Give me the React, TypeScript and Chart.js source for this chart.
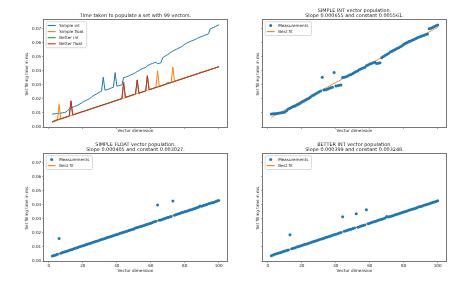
import { useEffect, useRef } from "react";
import { Chart, registerables } from "chart.js";

Chart.register(...registerables);

// ---- data -------------------------------------------------------------
const vectorDims = Array.from({ length: 99 }, (_, i) => i + 2);

// set filling time (ms) for vector dimensions 2..100
const simpleInt = [
  0.0092, 0.0094, 0.0095, 0.0096, 0.0098, 0.0099, 0.0101, 0.0103, 0.0107,
  0.0115, 0.0128, 0.0134, 0.0141, 0.0146, 0.0150, 0.0156, 0.0163, 0.0170, 0.0178,
  0.0184, 0.0190, 0.0197, 0.0203, 0.0212, 0.0222, 0.0229, 0.0235, 0.0242, 0.0249,
  0.0256, 0.0355, 0.0263, 0.0266, 0.0270, 0.0274, 0.0280, 0.0284, 0.0388, 0.0292,
  0.0294, 0.0297, 0.0300, 0.0353, 0.0355, 0.0359, 0.0364, 0.0370, 0.0375, 0.0381,
  0.0388, 0.0395, 0.0402, 0.0410, 0.0416, 0.0421, 0.0424, 0.0437, 0.0443, 0.0449,
  0.0453, 0.0458, 0.0462, 0.0452, 0.0454, 0.0458, 0.0494, 0.0502, 0.0509, 0.0517,
  0.0525, 0.0534, 0.0541, 0.0548, 0.0553, 0.0560, 0.0566, 0.0572, 0.0580, 0.0590,
  0.0597, 0.0603, 0.0609, 0.0614, 0.0618, 0.0624, 0.0630, 0.0636, 0.0641, 0.0645,
  0.0650, 0.0655, 0.0660, 0.0664, 0.0700, 0.0705, 0.0710, 0.0716, 0.0722, 0.0728,
];

const simpleFloat = [
  0.0035, 0.0039, 0.0043, 0.0048, 0.0160, 0.0056, 0.0060, 0.0064, 0.0068,
  0.0072, 0.0076, 0.0080, 0.0084, 0.0089, 0.0093, 0.0097, 0.0101, 0.0106, 0.0109,
  0.0113, 0.0117, 0.0121, 0.0125, 0.0129, 0.0133, 0.0138, 0.0141, 0.0145, 0.0149,
  0.0153, 0.0157, 0.0160, 0.0165, 0.0169, 0.0173, 0.0177, 0.0182, 0.0185, 0.0189,
  0.0193, 0.0197, 0.0201, 0.0205, 0.0208, 0.0213, 0.0217, 0.0221, 0.0225, 0.0229,
  0.0236, 0.0238, 0.0242, 0.0246, 0.0250, 0.0254, 0.0259, 0.0262, 0.0266, 0.0270,
  0.0274, 0.0280, 0.0283, 0.0400, 0.0290, 0.0293, 0.0298, 0.0302, 0.0307, 0.0310,
  0.0314, 0.0318, 0.0427, 0.0326, 0.0331, 0.0335, 0.0339, 0.0344, 0.0347, 0.0351,
  0.0355, 0.0359, 0.0363, 0.0366, 0.0371, 0.0375, 0.0379, 0.0383, 0.0392, 0.0391,
  0.0395, 0.0399, 0.0403, 0.0408, 0.0411, 0.0415, 0.0418, 0.0423, 0.0427, 0.0432,
];

const betterInt = [
  0.0038, 0.0042, 0.0049, 0.0052, 0.0055, 0.0059, 0.0063, 0.0067, 0.0071,
  0.0075, 0.0079, 0.0187, 0.0087, 0.0091, 0.0095, 0.0099, 0.0103, 0.0107, 0.0111,
  0.0115, 0.0119, 0.0122, 0.0127, 0.0131, 0.0135, 0.0139, 0.0143, 0.0146, 0.0151,
  0.0155, 0.0159, 0.0163, 0.0167, 0.0171, 0.0175, 0.0179, 0.0183, 0.0187, 0.0191,
  0.0195, 0.0199, 0.0203, 0.0316, 0.0213, 0.0216, 0.0219, 0.0224, 0.0227, 0.0231,
  0.0235, 0.0337, 0.0241, 0.0245, 0.0250, 0.0253, 0.0257, 0.0366, 0.0266, 0.0270,
  0.0274, 0.0278, 0.0282, 0.0286, 0.0290, 0.0294, 0.0298, 0.0302, 0.0306, 0.0318,
  0.0313, 0.0317, 0.0321, 0.0325, 0.0329, 0.0333, 0.0337, 0.0341, 0.0345, 0.0349,
  0.0353, 0.0357, 0.0361, 0.0365, 0.0369, 0.0373, 0.0377, 0.0381, 0.0386, 0.0389,
  0.0393, 0.0397, 0.0401, 0.0405, 0.0409, 0.0413, 0.0417, 0.0421, 0.0425, 0.0430,
];

const betterFloat = [
  0.0037, 0.0042, 0.0046, 0.0050, 0.0054, 0.0058, 0.0062, 0.0066, 0.0070,
  0.0074, 0.0078, 0.0185, 0.0086, 0.0090, 0.0094, 0.0098, 0.0102, 0.0106, 0.0110,
  0.0114, 0.0118, 0.0122, 0.0126, 0.0130, 0.0134, 0.0138, 0.0142, 0.0146, 0.0150,
  0.0154, 0.0158, 0.0162, 0.0166, 0.0170, 0.0174, 0.0178, 0.0182, 0.0186, 0.0190,
  0.0194, 0.0198, 0.0202, 0.0319, 0.0211, 0.0215, 0.0219, 0.0223, 0.0227, 0.0231,
  0.0235, 0.0335, 0.0241, 0.0245, 0.0249, 0.0253, 0.0257, 0.0365, 0.0265, 0.0269,
  0.0273, 0.0277, 0.0281, 0.0285, 0.0289, 0.0293, 0.0297, 0.0301, 0.0305, 0.0309,
  0.0313, 0.0317, 0.0321, 0.0325, 0.0329, 0.0333, 0.0337, 0.0341, 0.0345, 0.0349,
  0.0353, 0.0357, 0.0361, 0.0365, 0.0369, 0.0373, 0.0377, 0.0381, 0.0385, 0.0389,
  0.0393, 0.0397, 0.0401, 0.0405, 0.0409, 0.0413, 0.0417, 0.0421, 0.0425, 0.0429,
];

// least-squares fits: [slope, constant]
const simpleIntFit = [0.000655, 0.005561];
const simpleFloatFit = [0.000405, 0.003027];
const betterIntFit = [0.000399, 0.003248];

const xTicks = [0, 20, 40, 60, 80, 100];
const xTickLabels = ["0", "20", "40", "60", "80", "100"];
const yTicks = [0, 0.01, 0.02, 0.03, 0.04, 0.05, 0.06, 0.07];
const yTickLabels = ["0.00", "0.01", "0.02", "0.03", "0.04", "0.05", "0.06", "0.07"];

// ---- styling ------------------------------------------------------------
const FIG_W = 474;
const FIG_H = 292;
const X_RANGE = [-2.9, 104.9];
const Y_RANGE = [0, 0.0763];
const Y_AXIS_W = 14;
const X_AXIS_H = 8;
const FONT = "'DejaVu Sans', sans-serif";
const TEXT = "#222";
const SPINE = "#777";
const C_BLUE = "#1f77b4";
const C_ORANGE = "#ff7f0e";
const C_GREEN = "#2ca02c";
const C_RED = "#d62728";

type LegendItem = { label: string; color: string; kind: "line" | "marker" };
type Panel = {
  box: { l: number; t: number; r: number; b: number };
  title: string[];
  showXLabels: boolean;
  showYLabels: boolean;
  datasets: any[];
  legend: LegendItem[];
};

const pts = (ys: number[]) => ys.map((y, i) => ({ x: vectorDims[i], y }));

const fitLine = (fit: number[]) => {
  const x0 = vectorDims[0];
  const x1 = vectorDims[vectorDims.length - 1];
  return [
    { x: x0, y: fit[1] + fit[0] * x0 },
    { x: x1, y: fit[1] + fit[0] * x1 },
  ];
};

const lineSet = (label: string, ys: number[], color: string, order: number) => ({
  label,
  data: pts(ys),
  showLine: true,
  borderColor: color,
  backgroundColor: color,
  borderWidth: 1,
  borderJoinStyle: "round",
  borderCapStyle: "round",
  pointRadius: 0,
  order,
});

const scatterPanel = (ys: number[], fit: number[]) => [
  {
    label: "Measurements",
    data: pts(ys),
    showLine: false,
    pointRadius: 1.5,
    pointBorderWidth: 0,
    backgroundColor: C_BLUE,
    borderColor: C_BLUE,
    order: 0,
  },
  {
    label: "Best fit",
    data: fitLine(fit),
    showLine: true,
    borderColor: C_ORANGE,
    backgroundColor: C_ORANGE,
    borderWidth: 0.9,
    pointRadius: 0,
    order: 1,
  },
];

const scatterLegend: LegendItem[] = [
  { label: "Measurements", color: C_BLUE, kind: "marker" },
  { label: "Best fit", color: C_ORANGE, kind: "line" },
];

const fitTitle = (name: string, fit: number[]) => [
  `${name} vector population.`,
  `Slope ${fit[0].toFixed(6)} and constant ${fit[1].toFixed(6)}.`,
];

const panels: Panel[] = [
  {
    box: { l: 44, t: 20, r: 227, b: 127 },
    title: ["Time taken to populate a set with 99 vectors."],
    showXLabels: false,
    showYLabels: true,
    datasets: [
      lineSet("Simple int", simpleInt, C_BLUE, 4),
      lineSet("Simple float", simpleFloat, C_ORANGE, 3),
      lineSet("Better int", betterInt, C_GREEN, 2),
      lineSet("Better float", betterFloat, C_RED, 1),
    ],
    legend: [
      { label: "Simple int", color: C_BLUE, kind: "line" },
      { label: "Simple float", color: C_ORANGE, kind: "line" },
      { label: "Better int", color: C_GREEN, kind: "line" },
      { label: "Better float", color: C_RED, kind: "line" },
    ],
  },
  {
    box: { l: 263, t: 20, r: 446, b: 127 },
    title: fitTitle("SIMPLE INT", simpleIntFit),
    showXLabels: false,
    showYLabels: false,
    datasets: scatterPanel(simpleInt, simpleIntFit),
    legend: scatterLegend,
  },
  {
    box: { l: 44, t: 154, r: 227, b: 261 },
    title: fitTitle("SIMPLE FLOAT", simpleFloatFit),
    showXLabels: true,
    showYLabels: true,
    datasets: scatterPanel(simpleFloat, simpleFloatFit),
    legend: scatterLegend,
  },
  {
    box: { l: 263, t: 154, r: 446, b: 261 },
    title: fitTitle("BETTER INT", betterIntFit),
    showXLabels: true,
    showYLabels: false,
    datasets: scatterPanel(betterInt, betterIntFit),
    legend: scatterLegend,
  },
];

// frame, titles, axis labels and legend drawn around/inside the plot area
const decorPlugin = {
  id: "decor",
  afterDraw(chart: any, _args: any, opts: any) {
    const p: Panel = opts.panel;
    const { ctx, chartArea: a } = chart;
    ctx.save();

    // four spines
    ctx.strokeStyle = SPINE;
    ctx.lineWidth = 1;
    ctx.strokeRect(a.left - 0.5, a.top - 0.5, a.right - a.left + 1, a.bottom - a.top + 1);

    const cx = (a.left + a.right) / 2;
    ctx.fillStyle = TEXT;

    // title
    ctx.font = `4.9px ${FONT}`;
    ctx.textAlign = "center";
    ctx.textBaseline = "alphabetic";
    const n = p.title.length;
    p.title.forEach((line, i) => {
      ctx.fillText(line, cx, a.top - 2.6 - (n - 1 - i) * 5.2);
    });

    // axis labels
    ctx.font = `4.15px ${FONT}`;
    ctx.textBaseline = "middle";
    ctx.fillText("Vector dimension", cx, a.bottom + (p.showXLabels ? 10 : 4));
    ctx.save();
    ctx.translate(a.left - (p.showYLabels ? 17 : 5), (a.top + a.bottom) / 2);
    ctx.rotate(-Math.PI / 2);
    ctx.fillText("Set filling time in ms.", 0, 0);
    ctx.restore();

    // legend
    ctx.font = `4.1px ${FONT}`;
    const maxW = Math.max(...p.legend.map((it) => ctx.measureText(it.label).width));
    const lx = a.left + 1.7;
    const ly = a.top + 1.2;
    const lw = 13.5 + maxW + 2.5;
    const lh = p.legend.length * 6.1 + 1.6;
    ctx.beginPath();
    ctx.roundRect(lx + 0.5, ly + 0.5, lw, lh, 1.2);
    ctx.fillStyle = "rgba(255,255,255,0.8)";
    ctx.fill();
    ctx.strokeStyle = "#d0d0d0";
    ctx.lineWidth = 0.8;
    ctx.stroke();
    ctx.textAlign = "left";
    p.legend.forEach((it, i) => {
      const y = ly + 4.3 + i * 6.1;
      if (it.kind === "line") {
        ctx.strokeStyle = it.color;
        ctx.lineWidth = 1.1;
        ctx.beginPath();
        ctx.moveTo(lx + 2, y);
        ctx.lineTo(lx + 10, y);
        ctx.stroke();
      } else {
        ctx.fillStyle = it.color;
        ctx.beginPath();
        ctx.arc(lx + 6, y, 1.5, 0, Math.PI * 2);
        ctx.fill();
      }
      ctx.fillStyle = TEXT;
      ctx.fillText(it.label, lx + 13.5, y);
    });

    ctx.restore();
  },
};

function makeConfig(p: Panel): any {
  return {
    type: "scatter",
    data: { datasets: p.datasets },
    plugins: [decorPlugin],
    options: {
      animation: false,
      responsive: false,
      devicePixelRatio: 1,
      events: [],
      layout: {
        padding: {
          left: p.box.l - Y_AXIS_W,
          right: FIG_W - p.box.r,
          top: p.box.t,
          bottom: FIG_H - p.box.b - X_AXIS_H,
        },
      },
      plugins: {
        legend: { display: false },
        tooltip: { enabled: false },
        title: { display: false },
        decor: { panel: p },
      },
      scales: {
        x: {
          type: "linear",
          min: X_RANGE[0],
          max: X_RANGE[1],
          afterBuildTicks: (s: any) => {
            s.ticks = xTicks.map((v) => ({ value: v }));
          },
          afterFit: (s: any) => {
            s.height = X_AXIS_H;
          },
          border: { display: false },
          grid: { display: true, drawOnChartArea: false, drawTicks: true, tickLength: 1.6, color: SPINE, lineWidth: 1 },
          ticks: {
            display: p.showXLabels,
            padding: 1.2,
            maxRotation: 0,
            autoSkip: false,
            color: TEXT,
            font: { family: FONT, size: 4.15 },
            callback: (v: number) => xTickLabels[xTicks.indexOf(v)],
          },
        },
        y: {
          type: "linear",
          min: Y_RANGE[0],
          max: Y_RANGE[1],
          afterBuildTicks: (s: any) => {
            s.ticks = yTicks.map((v) => ({ value: v }));
          },
          afterFit: (s: any) => {
            s.width = Y_AXIS_W;
          },
          border: { display: false },
          grid: { display: true, drawOnChartArea: false, drawTicks: true, tickLength: 1.6, color: SPINE, lineWidth: 1 },
          ticks: {
            display: p.showYLabels,
            padding: 1.2,
            autoSkip: false,
            color: TEXT,
            font: { family: FONT, size: 4.15 },
            callback: (v: number) => yTickLabels[yTicks.indexOf(v)],
          },
        },
      },
    },
  };
}

function PanelCanvas({ panel }: { panel: Panel }) {
  const ref = useRef<HTMLCanvasElement | null>(null);
  useEffect(() => {
    if (!ref.current) return;
    const chart = new Chart(ref.current, makeConfig(panel));
    return () => chart.destroy();
  }, [panel]);
  return (
    <canvas
      ref={ref}
      width={FIG_W}
      height={FIG_H}
      style={{ position: "absolute", left: 0, top: 0, width: FIG_W, height: FIG_H }}
    />
  );
}

export default function App() {
  return (
    <div
      style={{
        position: "fixed",
        left: 0,
        top: 0,
        width: FIG_W,
        height: FIG_H,
        background: "#fff",
        overflow: "hidden",
      }}
    >
      {panels.map((p, i) => (
        <PanelCanvas key={i} panel={p} />
      ))}
    </div>
  );
}
